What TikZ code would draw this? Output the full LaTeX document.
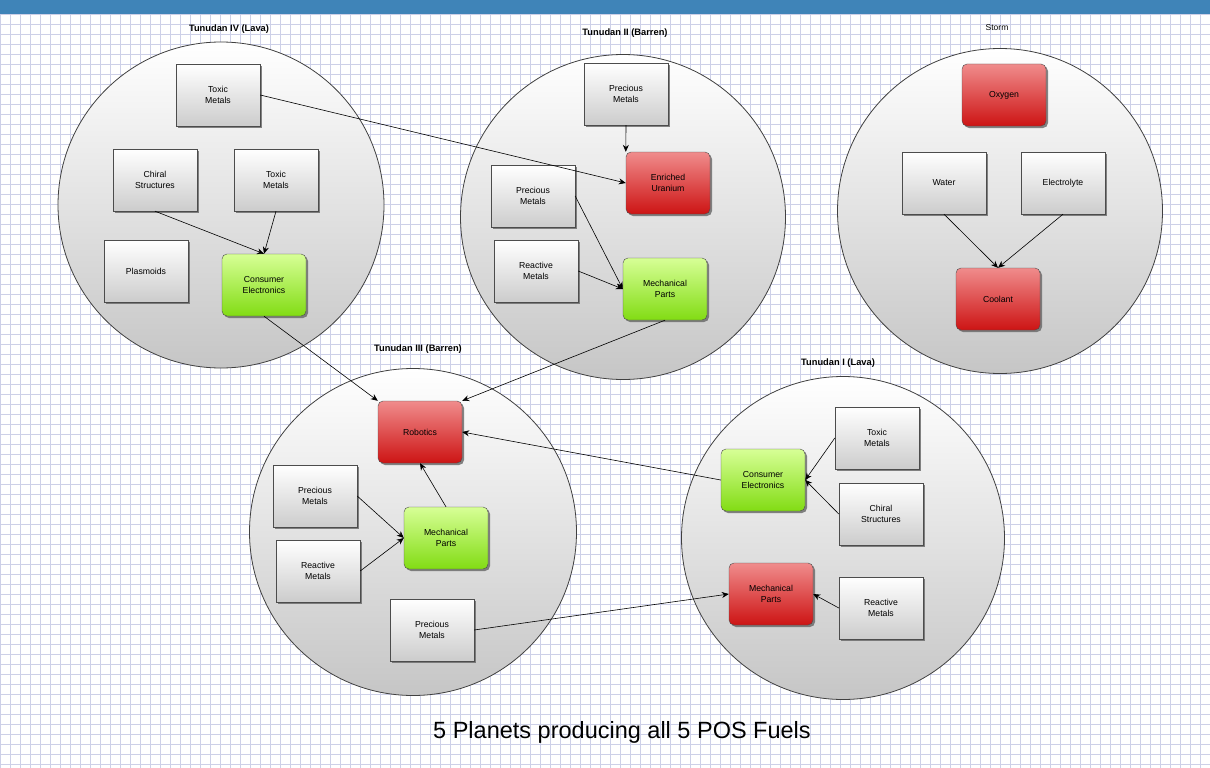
\documentclass[tikz,border=0pt]{standalone}
\usepackage{fontspec}
\setmainfont{Liberation Sans}
\usetikzlibrary{shadows,arrows.meta}
\definecolor{gridc}{RGB}{205,208,232}
\definecolor{barc}{RGB}{63,132,184}
\tikzset{
 planet/.style={draw=black!75,line width=0.8pt,circle,top color=white,bottom color=gray!45,minimum size=#1},
 box/.style={draw=black!70,minimum width=84pt,minimum height=62pt,align=center,font=\fontsize{8.7}{10.5}\selectfont,
   top color=white,bottom color=gray!40,drop shadow={shadow xshift=2pt,shadow yshift=-2pt,fill=black!60,opacity=0.8}},
 gbox/.style={box,rounded corners=5pt,top color={rgb,255:red,215;green,255;blue,150},bottom color={rgb,255:red,130;green,220;blue,20}},
 rbox/.style={box,rounded corners=5pt,top color={rgb,255:red,240;green,140;blue,140},bottom color={rgb,255:red,205;green,20;blue,20}},
 lab/.style={font=\fontsize{9.3}{10}\selectfont\bfseries},
 ar/.style={-{Stealth[length=7pt,width=6pt]},black,line width=0.6pt}
}
\begin{document}
\begin{tikzpicture}[x=1pt,y=-1pt]
\useasboundingbox (0,0) rectangle (1210,768);
\fill[white] (0,0) rectangle (1210,768);
\foreach \i in {0,10,...,1210} \draw[gridc,line width=0.4pt] (\i,14) -- (\i,768);
\foreach \j in {14,24,...,768} \draw[gridc,line width=0.4pt] (0,\j) -- (1210,\j);
\fill[barc] (0,0) rectangle (1210,14);
\node[planet=326pt] (P4) at (221,205) {};
\node[planet=325pt] (P2) at (623,217) {};
\node[planet=325pt] (PS) at (1000,211) {};
\node[planet=327pt] (P3) at (413,532) {};
\node[planet=323pt] (P1) at (843,538) {};
\node[lab] (L4) at (229,29) {Tunudan IV (Lava)};
\node[lab] (L2) at (625,33) {Tunudan II (Barren)};
\node[font=\fontsize{8.5}{9}\selectfont] (LS) at (997,28) {Storm};
\node[lab] (L3) at (418,349) {Tunudan III (Barren)};
\node[lab] (L1) at (838,363) {Tunudan I (Lava)};
% IV
\node[box] (a1) at (218,95) {Toxic\\Metals};
\node[box] (a2) at (155,180) {Chiral\\Structures};
\node[box] (a3) at (276,180) {Toxic\\Metals};
\node[box] (a4) at (146,271) {Plasmoids};
\node[gbox] (a5) at (264,285) {Consumer\\Electronics};
% II
\node[box] (b1) at (626,94) {Precious\\Metals};
\node[rbox] (b2) at (668,183) {Enriched\\Uranium};
\node[box] (b3) at (533,196) {Precious\\Metals};
\node[box] (b4) at (536,271) {Reactive\\Metals};
\node[gbox] (b5) at (665,289) {Mechanical\\Parts};
% Storm
\node[rbox] (s1) at (1004,95) {Oxygen};
\node[box] (s2) at (944,183) {Water};
\node[box] (s3) at (1063,183) {Electrolyte};
\node[rbox] (s4) at (998,299) {Coolant};
% III
\node[rbox] (c1) at (420,432) {Robotics};
\node[box] (c2) at (315,496) {Precious\\Metals};
\node[box] (c3) at (318,571) {Reactive\\Metals};
\node[gbox] (c4) at (446,538) {Mechanical\\Parts};
\node[box] (c5) at (432,630) {Precious\\Metals};
% I
\node[box] (d1) at (877,438) {Toxic\\Metals};
\node[gbox] (d2) at (763,480) {Consumer\\Electronics};
\node[box] (d3) at (881,514) {Chiral\\Structures};
\node[rbox] (d4) at (771,594) {Mechanical\\Parts};
\node[box] (d5) at (881,608) {Reactive\\Metals};
% arrows
\draw[ar] (a1.east) -- (b2.west);
\draw[ar] (a2.south) -- (a5.north);
\draw[ar] (a3.south) -- (a5.north);
\draw[ar] (a5.south) -- (c1.north west);
\draw[ar] (b1.south) -- (b2.north west);
\draw[ar] (b3.east) -- (b5.west);
\draw[ar] (b4.east) -- (b5.west);
\draw[ar] (b5.south) -- (c1.north east);
\draw[ar] (s2.south) -- (s4.north);
\draw[ar] (s3.south) -- (s4.north);
\draw[ar] (c2.east) -- (c4.west);
\draw[ar] (c3.east) -- (c4.west);
\draw[ar] (c4.north) -- (c1.south);
\draw[ar] (d2.west) -- (c1.east);
\draw[ar] (d1.west) -- (d2.east);
\draw[ar] (d3.west) -- (d2.east);
\draw[ar] (d5.west) -- (d4.east);
\draw[ar] (c5.east) -- (d4.west);
\node[font=\fontsize{23.5}{26}\selectfont] (T) at (622,732) {5 Planets producing all 5 POS Fuels};
\end{tikzpicture}
\end{document}
